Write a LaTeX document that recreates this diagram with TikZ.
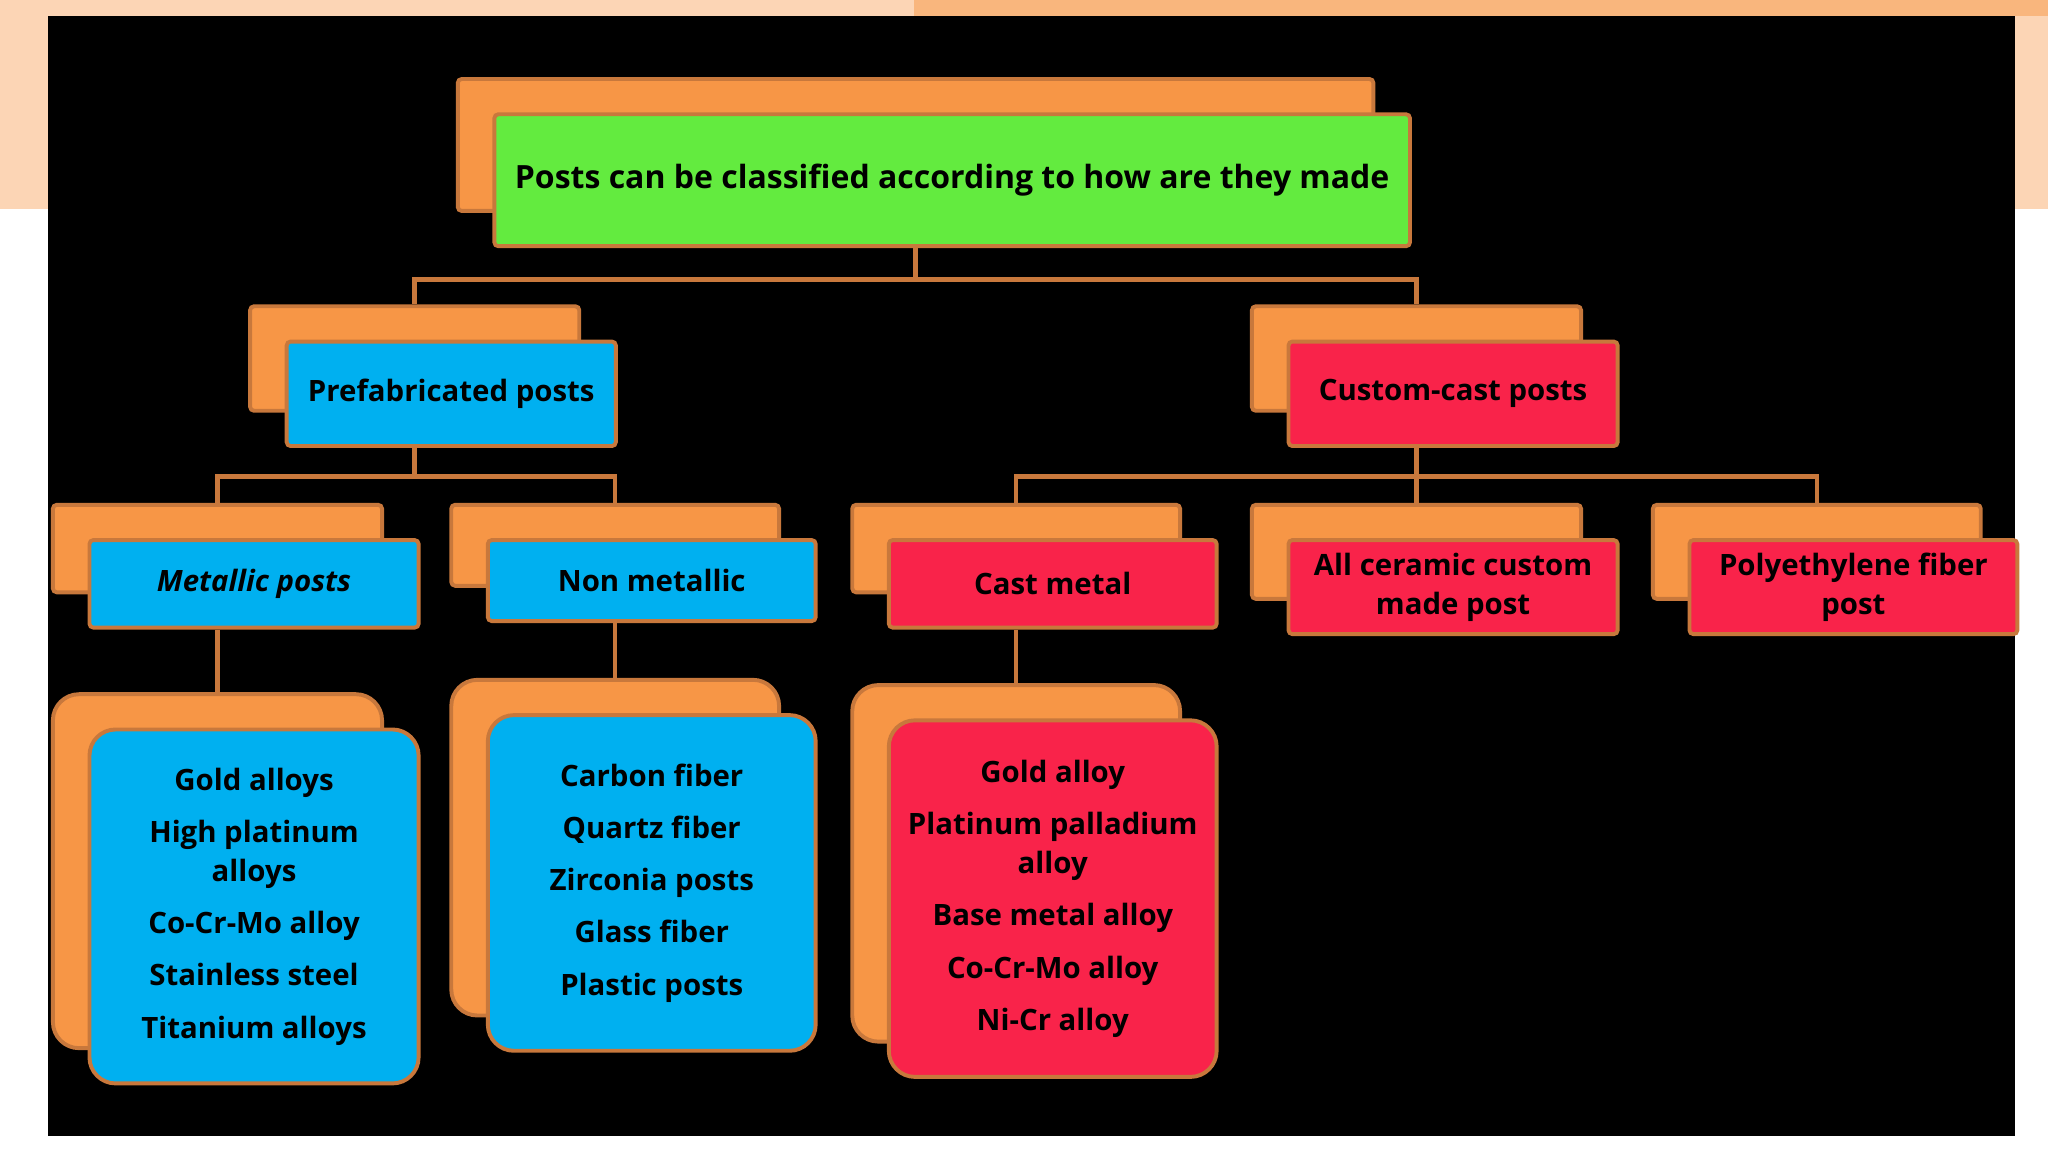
\documentclass[tikz,border=0pt]{standalone}
\usepackage{fontspec}
\setmainfont{Open Sans}
\definecolor{bord}{HTML}{C8783C}
\definecolor{backo}{HTML}{F79646}
\definecolor{gr}{HTML}{63EB3F}
\definecolor{bl}{HTML}{00B0F0}
\definecolor{rd}{HTML}{F9234A}
\tikzset{
 bx/.style={draw=bord,line width=3pt,rounded corners=3pt,inner sep=2pt,align=center,font=\fontsize{22.5}{30}\selectfont\bfseries},
 bk/.style={bx,fill=backo},
 conn/.style={draw=bord,line width=3.5pt},
}
\newcommand{\twobox}[7]{% name, x1,y1,x2,y2, color, text
 \node[bk,anchor=north west,minimum width=#4-#2,minimum height=#5-#3] (#1b) at (#2-28,#3-27) {};
 \node[bx,fill=#6,anchor=north west,minimum width=#4-#2,minimum height=#5-#3] (#1) at (#2,#3) {#7};
}
\begin{document}
\begin{tikzpicture}[x=1pt,y=-1pt]
\useasboundingbox (0,0) rectangle (1568,882);
\fill[white] (0,0) rectangle (1568,882);
\fill[backo!40] (0,0) rectangle (1568,160);
\fill[backo!70] (700,0) rectangle (1568,12);
\fill[black] (37,12) rectangle (1543,870);
\twobox{top}{377}{86}{1078}{187}{gr}{\fontsize{24.5}{30}\selectfont Posts can be classified according to how are they made}
\twobox{pf}{218}{260}{470}{340}{bl}{Prefabricated posts}
\twobox{cc}{985}{260}{1237}{340}{rd}{Custom-cast posts}
\twobox{me}{67}{412}{319}{479}{bl}{\itshape Metallic posts}
\twobox{nm}{372}{412}{623}{474}{bl}{Non metallic}
\twobox{cm}{679}{412}{930}{479}{rd}{Cast metal}
\twobox{ac}{985}{412}{1237}{484}{rd}{All ceramic custom\\made post}
\twobox{pe}{1292}{412}{1543}{484}{rd}{Polyethylene fiber\\post}
\tikzset{bx/.append style={rounded corners=20pt}}
\twobox{ml}{67}{557}{319}{828}{bl}{Gold alloys\\[10pt]High platinum\\alloys\\[10pt]Co-Cr-Mo alloy\\[10pt]Stainless steel\\[10pt]Titanium alloys}
\twobox{nl}{372}{546}{623}{803}{bl}{Carbon fiber\\[10pt]Quartz fiber\\[10pt]Zirconia posts\\[10pt]Glass fiber\\[10pt]Plastic posts}
\twobox{cl}{679}{550}{930}{823}{rd}{Gold alloy\\[10pt]Platinum palladium\\alloy\\[10pt]Base metal alloy\\[10pt]Co-Cr-Mo alloy\\[10pt]Ni-Cr alloy}
\draw[conn] (topb.north |- top.south) -- ++(0,24) -| (pfb.north);
\draw[conn] (topb.north |- top.south) -- ++(0,24) -| (ccb.north);
\draw[conn] (pfb.north |- pf.south) -- ++(0,22) -| (meb.north);
\draw[conn] (pfb.north |- pf.south) -- ++(0,22) -| (nmb.north);
\draw[conn] (ccb.north |- cc.south) -- ++(0,22) -| (cmb.north);
\draw[conn] (ccb.north |- cc.south) -- (acb.north);
\draw[conn] (ccb.north |- cc.south) -- ++(0,22) -| (peb.north);
\draw[conn] (meb.north |- me.south) -- (mlb.north);
\draw[conn] (nmb.north |- nm.south) -- (nlb.north);
\draw[conn] (cmb.north |- cm.south) -- (clb.north);
\end{tikzpicture}
\end{document}
